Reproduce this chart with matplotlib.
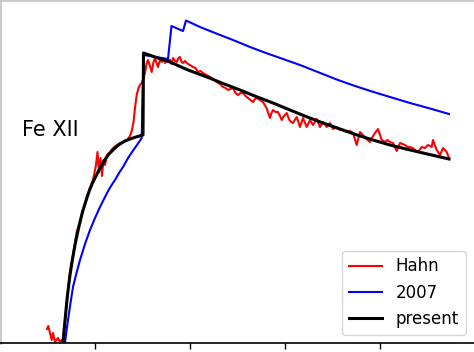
import matplotlib
matplotlib.use("Agg")
import matplotlib.pyplot as plt

# Hahn (experimental, noisy)
hahn_x = [47, 48.3, 50, 51.7, 53, 55, 58, 60, 61.7, 63, 65, 67, 70, 73, 76.7, 80, 83, 86, 90, 93,
          96, 97.5, 99, 100.5, 102, 103.5, 105, 107, 110, 113, 117, 120, 124, 127, 130, 132, 133.5,
          135, 136.7, 138.5, 140, 141.7, 143, 145, 146.7, 148, 150, 151.7, 153.5, 155, 156.5, 158,
          160, 161.7, 163.5, 165, 167, 170, 171.5, 173, 175, 176.7, 178.5, 180, 181.5, 183, 185,
          188, 190, 193, 195.5, 198, 200.5, 203, 206.5, 210, 213, 216.7, 220, 223, 225.5, 228,
          230.5, 233, 235.5, 238, 240.5, 243, 245.5, 248, 250.5, 253, 255, 256.7, 260, 263, 266.5,
          270, 271.5, 273, 275.5, 278, 280, 281.7, 284, 286.7, 288.5, 290, 293, 296.7, 300, 303,
          306.7, 310, 313, 316.7, 320, 323, 326.7, 330, 333, 336.7, 340, 343.5, 346.7, 350, 353,
          356.7, 360, 363, 366.5, 370, 372.5, 375, 378, 381.7, 385, 387.5, 390, 393, 396.7, 400,
          402.5, 405, 407.5, 410, 412.5, 415, 418, 421.7, 425, 428, 431.7, 433, 436.7, 440, 443,
          446.7, 449]
hahn_y = [14, 17, 10, 3, 10, 1, 5, 1, 3, 2, 23, 43, 71, 88, 111, 121, 133, 143, 155, 163,
          178, 191, 171, 185, 167, 183, 178, 188, 191, 195, 198, 200, 201, 203, 207, 213, 221,
          235, 248, 255, 258, 260, 263, 270, 280, 283, 277, 271, 281, 285, 280, 276,
          283, 281, 285, 280, 283, 283, 279, 285, 282, 281, 285, 286, 281, 280, 282,
          279, 278, 276, 275, 271, 272, 270, 268, 266, 264, 261, 259, 256, 255, 253,
          254, 255, 250, 248, 250, 250, 247, 245, 243, 241, 244, 245, 243, 241, 235,
          225, 230, 233, 231, 231, 227, 223, 227, 230, 225, 222, 220, 226, 216, 225,
          216, 223, 218, 224, 216, 221, 216, 220, 214, 216, 213, 213, 211, 212, 210,
          198, 211, 208, 204, 201, 206, 210, 214, 203, 201, 203, 201, 200, 192, 200,
          199, 198, 196, 196, 195, 193, 191, 196, 195, 198, 196, 203, 193, 188, 195,
          191, 185]

# 2007 calculation
y2007_x = [65, 66.5, 68, 70.5, 73, 76.5, 80, 85, 90, 95, 100, 103.5, 107, 111, 115, 119, 123,
           127.5, 132, 137, 141.7, 143.5, 168, 171.5, 183, 186, 200, 215, 233, 250, 266, 283,
           300, 319, 338, 355, 372, 390, 410, 430, 449]
y2007_y = [0, 12, 23, 40, 56, 70, 83, 99, 113, 125, 136, 143, 150, 157, 163, 170, 176,
           184, 191, 198, 205, 288, 284, 317, 312, 322.5, 316, 310, 303, 296, 290, 284,
           278, 270.5, 263, 257, 251.5, 246, 240, 234.5, 229]

# present calculation
present_x = [63, 64, 65, 66, 67.5, 70, 72.5, 75, 77.5, 80, 82.5, 85, 87.5, 90, 92.5, 95, 97.5,
             100, 103, 106, 109, 112, 116, 120, 125, 130, 136, 143, 143.5, 155, 170, 188, 207,
             223, 240, 256, 273, 290, 306, 323, 340, 357, 373, 390, 406, 423, 436, 449]
present_y = [0, 12, 22, 33, 48, 68, 84, 98, 110, 121, 131, 139, 147, 154, 160, 165, 170,
             175, 180, 185, 189, 192, 196, 199, 202, 204, 206, 208, 290, 286, 281, 273, 266,
             259.5, 253, 246.5, 240, 233, 226.5, 220, 214, 208, 203, 198, 194, 190, 187, 184]

xticks = [95, 190, 285, 380]
label_text = "Fe XII"

fig = plt.figure(figsize=(4.74, 3.52), dpi=100)
ax = fig.add_axes([0.0, 9 / 352, 1.0, 1 - 9 / 352])

ax.plot(hahn_x, hahn_y, color="red", lw=1.5, label="Hahn")
ax.plot(y2007_x, y2007_y, color="blue", lw=1.5, label="2007")
ax.plot(present_x, present_y, color="black", lw=2.2, label="present")

ax.set_xlim(0, 474)
ax.set_ylim(0, 343)
ax.set_xticks(xticks)
ax.set_xticklabels([])
ax.set_yticks([])
ax.tick_params(axis="x", direction="out", length=4, width=1)

ax.spines["right"].set_visible(False)
ax.spines["left"].set_color("#c8c8c8")
ax.spines["left"].set_linewidth(2)
ax.spines["top"].set_color("#c8c8c8")
ax.spines["top"].set_linewidth(2)
ax.spines["bottom"].set_linewidth(1.2)

ax.text(22, 213, label_text, fontsize=15, va="center", ha="left")
ax.legend(loc="lower right", fontsize=12)

fig.savefig("out.png", dpi=100)
